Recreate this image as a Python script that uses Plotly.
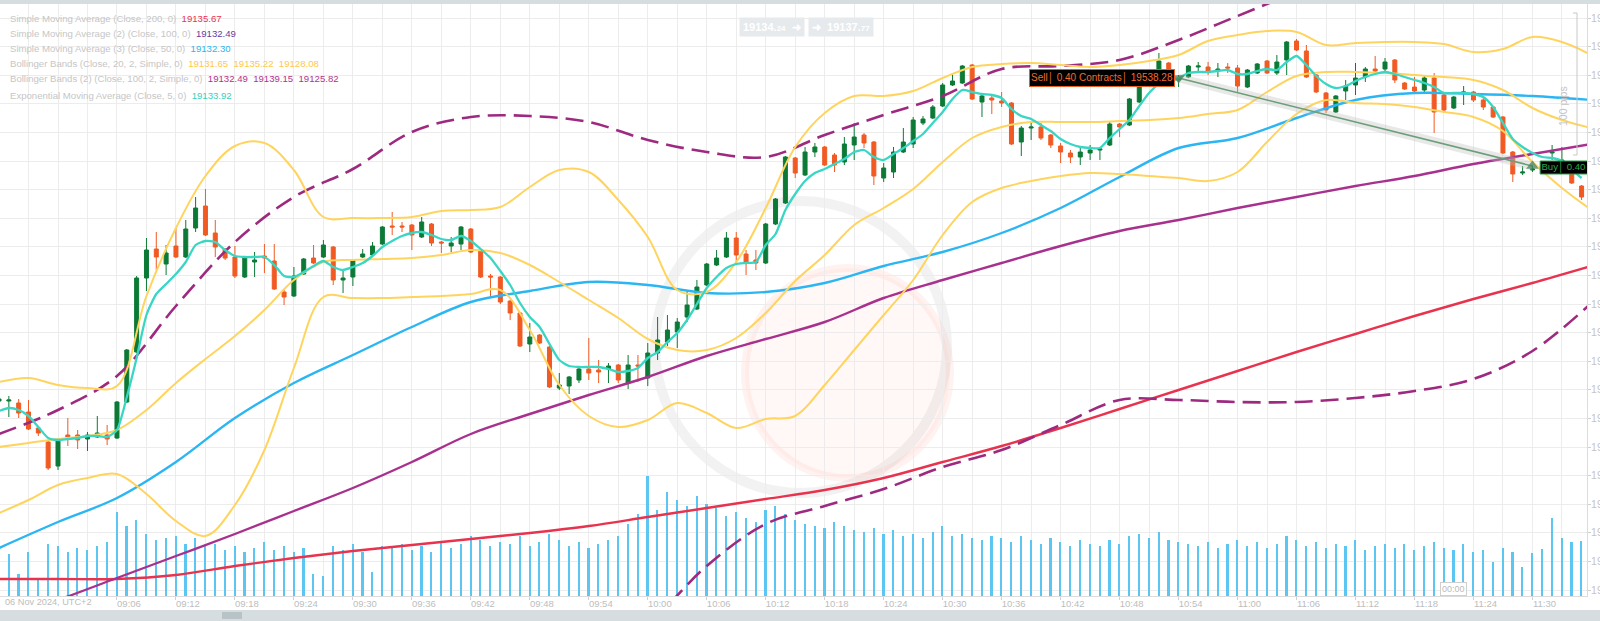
import plotly.graph_objects as go
import pandas as pd

# ---------------- data ----------------
minutes = pd.date_range("2024-11-06 08:54", "2024-11-06 11:35", freq="1min")
t3 = pd.date_range("2024-11-06 08:54", "2024-11-06 11:36", freq="3min")
t6 = pd.date_range("2024-11-06 08:54", "2024-11-06 11:36", freq="6min")
t6_low = pd.date_range("2024-11-06 09:54", "2024-11-06 11:36", freq="6min")

opens = [19119.9, 19119.9, 19119.7, 19118.8, 19117.2, 19115.8, 19113.4, 19116.5, 19116.5, 19116.1,
         19116.3, 19116.5, 19116.2, 19119.8, 19124.8, 19132.2, 19135.1, 19133.6, 19135.4, 19134.3,
         19137.2, 19139.4, 19136.7, 19135.1, 19134.3, 19132.3, 19133.8, 19134.4, 19133.9, 19130.8,
         19130.4, 19132.6, 19134.2, 19134.3, 19135.3, 19132.0, 19132.3, 19134.3, 19134.5, 19135.6,
         19137.4, 19137.4, 19137.5, 19136.3, 19137.6, 19135.8, 19135.4, 19135.6, 19137.1, 19135.0,
         19132.4, 19132.3, 19129.9, 19128.7, 19125.6, 19126.5, 19125.3, 19121.2, 19121.4, 19122.0,
         19123.1, 19123.0, 19123.1, 19123.5, 19121.7, 19123.5, 19122.2, 19124.7, 19125.8, 19126.8,
         19128.3, 19129.1, 19131.5, 19133.5, 19134.3, 19136.2, 19134.6, 19134.0, 19133.7, 19137.6,
         19139.7, 19144.2, 19142.5, 19144.8, 19145.3, 19144.5, 19143.8, 19145.5, 19146.5, 19145.8,
         19142.2, 19142.8, 19144.8, 19145.6, 19147.7, 19148.2, 19149.4, 19151.5, 19151.7, 19153.5,
         19149.8, 19150.2, 19149.9, 19149.7, 19145.8, 19147.2, 19147.3, 19146.5, 19145.4, 19144.7,
         19144.3, 19144.7, 19145.0, 19145.5, 19147.6, 19147.5, 19149.8, 19151.7, 19152.9, 19153.7,
         19152.0, 19152.3, 19153.3, 19153.3, 19152.9, 19153.3, 19153.2, 19151.3, 19152.7, 19153.9,
         19152.7, 19154.0, 19155.9, 19154.9, 19152.5, 19150.7, 19148.8, 19150.9, 19151.5, 19152.3,
         19153.1, 19153.1, 19154.0, 19151.7, 19151.3, 19151.0, 19152.2, 19150.5, 19149.2, 19150.7,
         19150.8, 19150.0, 19149.3, 19148.3, 19144.8, 19142.7, 19143.0, 19143.3, 19144.7, 19143.2,
         19142.7, 19141.4]
highs = [19120.3, 19120.4, 19120.1, 19120.0, 19117.3, 19116.0, 19116.2, 19118.2, 19117.0, 19116.8,
         19118.4, 19117.5, 19119.9, 19125.1, 19132.4, 19136.2, 19136.8, 19135.5, 19137.2, 19138.0,
         19140.3, 19141.1, 19138.0, 19135.2, 19135.4, 19134.4, 19134.8, 19135.6, 19135.6, 19131.0,
         19133.3, 19134.2, 19135.5, 19136.0, 19135.4, 19133.0, 19134.1, 19135.1, 19135.8, 19137.4,
         19138.8, 19137.8, 19137.6, 19138.3, 19137.7, 19135.9, 19136.3, 19137.4, 19137.2, 19135.1,
         19132.6, 19132.4, 19130.0, 19128.8, 19127.7, 19126.6, 19125.4, 19122.7, 19122.4, 19123.2,
         19126.2, 19124.0, 19123.7, 19123.6, 19124.5, 19124.5, 19125.7, 19128.3, 19128.5, 19128.2,
         19131.0, 19132.0, 19133.7, 19135.0, 19136.8, 19136.8, 19135.0, 19135.0, 19137.7, 19140.2,
         19144.4, 19144.3, 19145.3, 19145.7, 19145.4, 19144.7, 19146.3, 19147.7, 19146.7, 19145.9,
         19143.7, 19145.3, 19147.2, 19148.3, 19148.4, 19149.5, 19151.7, 19152.6, 19153.5, 19153.6,
         19150.5, 19150.5, 19150.8, 19149.8, 19147.4, 19147.8, 19147.7, 19146.6, 19145.7, 19145.0,
         19145.2, 19145.5, 19145.3, 19147.8, 19147.7, 19150.2, 19152.3, 19153.0, 19154.7, 19153.8,
         19152.5, 19153.5, 19153.8, 19153.8, 19153.7, 19153.7, 19153.5, 19153.1, 19153.7, 19154.0,
         19154.5, 19155.9, 19156.1, 19155.5, 19152.6, 19150.8, 19150.5, 19152.0, 19153.7, 19153.3,
         19154.4, 19154.2, 19154.1, 19151.8, 19152.3, 19152.5, 19152.7, 19150.8, 19150.4, 19151.4,
         19150.9, 19150.2, 19149.4, 19148.4, 19144.9, 19143.4, 19143.5, 19143.7, 19145.5, 19145.3,
         19142.8, 19141.5]
lows = [19119.7, 19118.3, 19118.2, 19117.0, 19116.4, 19113.0, 19113.0, 19115.4, 19115.1, 19114.9,
        19116.2, 19115.5, 19116.1, 19119.7, 19124.7, 19130.9, 19133.0, 19132.5, 19134.2, 19134.2,
        19136.8, 19136.4, 19134.3, 19134.0, 19132.2, 19132.2, 19132.3, 19132.7, 19131.0, 19129.5,
        19130.3, 19132.5, 19133.6, 19134.2, 19131.5, 19130.7, 19131.4, 19134.2, 19134.4, 19135.5,
        19136.5, 19136.8, 19135.0, 19136.2, 19135.4, 19134.7, 19134.8, 19135.0, 19134.7, 19132.2,
        19130.3, 19129.6, 19128.0, 19125.3, 19124.8, 19125.6, 19121.2, 19121.0, 19120.6, 19121.7,
        19122.0, 19121.7, 19121.7, 19121.7, 19121.1, 19121.8, 19121.4, 19124.0, 19125.4, 19125.2,
        19127.8, 19129.0, 19131.4, 19133.4, 19134.2, 19133.7, 19132.5, 19133.0, 19133.6, 19137.5,
        19139.6, 19142.2, 19142.4, 19144.3, 19143.4, 19142.8, 19143.5, 19144.0, 19145.2, 19141.5,
        19141.8, 19142.2, 19144.7, 19145.2, 19147.5, 19148.1, 19149.3, 19151.4, 19151.6, 19150.0,
        19148.3, 19148.6, 19149.3, 19145.5, 19144.4, 19146.0, 19146.0, 19145.2, 19143.7, 19143.7,
        19143.5, 19144.0, 19144.0, 19145.4, 19146.3, 19147.4, 19149.7, 19151.6, 19152.8, 19151.5,
        19151.3, 19152.2, 19152.9, 19152.5, 19152.3, 19152.7, 19150.8, 19151.2, 19152.6, 19152.6,
        19152.5, 19152.5, 19154.9, 19152.2, 19150.7, 19148.7, 19148.7, 19150.0, 19150.5, 19151.8,
        19152.8, 19152.8, 19151.7, 19151.0, 19150.7, 19150.7, 19146.7, 19148.7, 19149.1, 19149.5,
        19149.8, 19149.0, 19148.2, 19144.6, 19141.8, 19142.5, 19142.8, 19142.8, 19144.0, 19143.0,
        19141.6, 19140.0]
closes = [19120.1, 19120.0, 19118.7, 19117.1, 19116.7, 19113.2, 19116.0, 19116.3, 19116.0, 19116.5,
          19116.7, 19116.1, 19119.8, 19125.0, 19132.2, 19135.0, 19134.3, 19134.7, 19134.3, 19137.1,
          19139.2, 19136.5, 19135.3, 19134.2, 19132.4, 19134.3, 19134.0, 19134.2, 19131.1, 19130.3,
          19132.4, 19134.1, 19133.7, 19135.5, 19132.0, 19132.2, 19134.0, 19134.6, 19135.4, 19137.3,
          19137.3, 19137.3, 19136.5, 19137.8, 19135.7, 19135.7, 19135.7, 19137.3, 19134.8, 19132.3,
          19132.3, 19129.8, 19128.7, 19125.4, 19126.3, 19125.7, 19121.3, 19121.5, 19122.3, 19123.1,
          19122.7, 19122.8, 19123.4, 19122.0, 19123.5, 19123.4, 19124.7, 19126.0, 19127.0, 19127.8,
          19129.5, 19131.3, 19133.6, 19134.2, 19136.2, 19134.5, 19133.8, 19133.7, 19137.6, 19140.1,
          19144.3, 19142.7, 19144.8, 19145.3, 19143.5, 19143.5, 19145.6, 19146.3, 19145.7, 19142.4,
          19143.2, 19144.8, 19145.8, 19148.0, 19148.1, 19149.3, 19151.5, 19151.9, 19153.4, 19150.1,
          19150.4, 19150.0, 19149.7, 19145.6, 19147.2, 19147.3, 19146.2, 19145.5, 19144.8, 19144.3,
          19144.8, 19145.0, 19145.1, 19147.6, 19147.3, 19150.1, 19151.7, 19152.9, 19153.9, 19151.7,
          19152.1, 19153.4, 19153.4, 19152.8, 19153.1, 19153.2, 19151.4, 19153.0, 19153.6, 19152.7,
          19153.8, 19155.8, 19155.0, 19152.3, 19150.8, 19149.0, 19150.4, 19151.4, 19152.2, 19153.1,
          19152.9, 19153.8, 19152.0, 19151.1, 19150.9, 19152.2, 19148.8, 19149.0, 19150.3, 19150.8,
          19150.0, 19149.3, 19148.3, 19144.7, 19142.6, 19142.8, 19143.1, 19143.0, 19144.8, 19144.0,
          19141.7, 19140.3]
volumes = [44, 42, 22, 44, 18, 52, 50, 44, 48, 46, 50, 54,
           84, 70, 76, 62, 56, 58, 60, 52, 58, 50,
           52, 46, 50, 44, 48, 54, 46, 50, 44, 48,
           22, 20, 50, 46, 52, 44, 24, 50, 48, 52,
           46, 50, 44, 54, 48, 52, 60, 56, 50, 54,
           52, 60, 50, 54, 62, 56, 50, 54, 48, 52,
           56, 60, 72, 82, 120, 86, 104, 96, 90, 100,
           92, 88, 80, 84, 78, 74, 86, 90, 82, 76,
           72, 70, 68, 74, 70, 66, 64, 68, 62, 66,
           60, 62, 58, 64, 70, 60, 62, 58, 56, 60,
           58, 54, 60, 56, 52, 58, 54, 50, 56, 52,
           50, 56, 52, 60, 62, 58, 64, 56, 54, 52,
           50, 54, 48, 52, 56, 50, 54, 48, 52, 60,
           56, 50, 54, 48, 52, 50, 56, 46, 50, 52,
           48, 52, 46, 50, 54, 48, 46, 52, 44, 46,
           34, 48, 44, 29, 43, 47, 78, 58, 54, 55]

ema5 = [19118.9, 19119.2, 19119.0, 19118.4, 19117.3, 19116.2,
        19116.0, 19116.1, 19116.2, 19116.4, 19116.4, 19116.3, 19117.0, 19120.3, 19124.2, 19128.5,
        19130.6, 19131.6, 19132.6, 19133.8, 19135.5, 19135.9, 19135.8, 19135.0, 19134.4, 19134.3,
        19134.3, 19134.3, 19133.5, 19132.4, 19132.3, 19132.8, 19133.4, 19133.9, 19133.3, 19133.0,
        19133.3, 19133.7, 19134.4, 19135.3, 19135.9, 19136.4, 19136.7, 19136.8, 19136.5, 19136.1,
        19136.0, 19136.4, 19135.9, 19135.1, 19134.2, 19132.9, 19131.5, 19129.7, 19128.3, 19127.3,
        19125.6, 19124.0, 19123.4, 19123.3, 19123.3, 19123.3, 19123.1, 19122.8, 19122.9, 19123.2,
        19124.2, 19124.8, 19125.8, 19126.7, 19128.0, 19129.6, 19131.2, 19132.3, 19133.2, 19133.6,
        19133.7, 19133.8, 19135.5, 19136.6, 19139.0, 19140.6, 19141.9, 19142.7, 19143.1, 19143.6,
        19144.1, 19144.8, 19145.0, 19144.3, 19144.0, 19144.6, 19145.2, 19145.9, 19146.6, 19147.7,
        19148.8, 19150.1, 19151.0, 19150.8, 19150.6, 19150.5, 19150.2, 19149.1, 19148.4, 19148.1,
        19147.5, 19146.9, 19146.1, 19145.6, 19145.3, 19145.2, 19145.2, 19146.2, 19147.1, 19148.0,
        19149.4, 19150.7, 19151.6, 19151.7, 19152.2, 19152.7, 19152.8, 19152.8, 19152.9, 19153.0,
        19152.6, 19152.6, 19152.9, 19153.1, 19153.0, 19153.8, 19154.4, 19153.5, 19152.4, 19151.6,
        19151.2, 19151.4, 19151.9, 19152.3, 19152.6, 19152.8, 19152.6, 19152.3, 19152.0, 19151.7,
        19151.3, 19150.7, 19150.7, 19150.7, 19150.6, 19150.3, 19149.3, 19147.7, 19146.1, 19145.3,
        19144.7, 19144.3, 19144.2, 19143.9, 19143.0, 19142.2]

bb20_upper = [19121.8, 19122.2, 19121.5, 19121.2, 19121.4, 19130.4, 19137.2, 19142.4, 19145.4, 19145.7,
              19143.0, 19138.3, 19138.2, 19138.2, 19138.3, 19138.9, 19139.0, 19139.3, 19141.3, 19143.0,
              19142.8, 19140.0, 19136.3, 19131.0, 19130.8, 19133.8, 19139.2, 19145.3, 19148.7, 19150.4,
              19150.4, 19150.9, 19152.2, 19153.3, 19153.6, 19153.7, 19153.5, 19153.3, 19153.5, 19153.9,
              19154.5, 19155.9, 19156.5, 19156.9, 19156.8, 19155.5, 19155.7, 19155.8, 19155.8, 19155.6,
              19154.8, 19155.1, 19156.3, 19155.8, 19154.5]
bb20_middle = [19115.3, 19115.7, 19116.1, 19116.4, 19117.0, 19119.0, 19121.7, 19124.1, 19126.4, 19129.0,
               19132.0, 19133.8, 19134.0, 19134.1, 19134.2, 19134.5, 19135.0, 19134.7, 19133.5, 19131.8,
               19130.0, 19128.2, 19126.1, 19125.0, 19125.0, 19126.2, 19128.7, 19131.9, 19134.5, 19137.5,
               19139.2, 19141.1, 19143.8, 19146.2, 19147.3, 19147.8, 19147.8, 19147.8, 19147.9, 19148.0,
               19148.2, 19148.6, 19149.0, 19150.8, 19152.4, 19152.8, 19152.8, 19152.7, 19152.5, 19152.3,
               19152.0, 19151.0, 19149.2, 19148.0, 19147.2]
bb20_lower = [19108.7, 19110.0, 19111.5, 19112.2, 19112.6, 19110.6, 19107.9, 19106.4, 19109.5, 19115.0,
              19123.2, 19130.3, 19130.2, 19130.2, 19130.3, 19130.4, 19130.6, 19131.0, 19127.0, 19121.5,
              19118.4, 19117.3, 19118.0, 19119.7, 19118.7, 19117.2, 19118.1, 19118.4, 19121.5, 19125.0,
              19128.5, 19132.0, 19136.5, 19139.8, 19141.2, 19141.9, 19142.4, 19142.7, 19142.6, 19142.4,
              19142.2, 19141.9, 19142.8, 19145.8, 19148.6, 19150.0, 19149.7, 19149.6, 19149.3, 19148.8,
              19148.3, 19146.9, 19143.8, 19141.2, 19139.0]

sma50 = [19105.2, 19107.8, 19110.2, 19113.8, 19118.2, 19121.7, 19124.5, 19127.3, 19129.8, 19130.9,
         19131.8, 19131.5, 19130.7, 19130.8, 19131.7, 19133.4, 19134.8, 19136.7, 19139.2, 19142.3,
         19145.2, 19146.2, 19148.2, 19150.0, 19150.7, 19150.6, 19150.4, 19150.0]
sma100 = [19098.0, 19100.0, 19102.2, 19104.4, 19106.6, 19108.9, 19111.2, 19113.8, 19116.6, 19118.6,
          19120.5, 19122.3, 19124.4, 19126.1, 19127.8, 19130.2, 19132.0, 19133.7, 19135.4, 19136.9,
          19138.0, 19139.2, 19140.3, 19141.4, 19142.4, 19143.6, 19144.6, 19145.6]
sma200 = [19102.1, 19102.1, 19102.1, 19102.5, 19103.4, 19104.2, 19104.9, 19105.5, 19106.1, 19106.7,
          19107.4, 19108.3, 19109.2, 19110.1, 19111.0, 19112.2, 19113.8, 19115.4, 19117.2, 19119.1,
          19121.0, 19122.9, 19124.8, 19126.6, 19128.4, 19130.1, 19131.7, 19133.4]
bb100_upper = [19116.6, 19119.0, 19122.4, 19129.4, 19135.8, 19140.3, 19143.1, 19146.8, 19148.3, 19148.4,
               19147.8, 19146.0, 19144.8, 19144.3, 19146.5, 19148.5, 19150.4, 19153.1, 19153.4, 19154.0,
               19156.0, 19158.4, 19160.8, 19163.2, 19165.6, 19168.0, 19170.4, 19172.8]
bb100_lower = [19093.2, 19097.5, 19103.4, 19107.6, 19109.4, 19111.1, 19113.3, 19115.0, 19117.5, 19120.0,
               19120.0, 19119.8, 19119.8, 19120.2, 19120.9, 19122.1, 19124.9, 19129.7]

x_ticks = pd.date_range("2024-11-06 09:06", "2024-11-06 11:30", freq="6min")
x_ticktext = [t.strftime("%H:%M") for t in x_ticks]

trade_times = ["2024-11-06 10:54", "2024-11-06 11:30"]
trade_prices = [19152.2, 19143.4]

legend_labels = ["Simple Moving Average (Close, 200, 0)",
                 "Simple Moving Average (2) (Close, 100, 0)",
                 "Simple Moving Average (3) (Close, 50, 0)",
                 "Bollinger Bands (Close, 20, 2, Simple, 0)",
                 "Bollinger Bands (2) (Close, 100, 2, Simple, 0)",
                 "Exponential Moving Average (Close, 5, 0)"]
legend_values = ["19135.67", "19132.49", "19132.30",
                 "19131.65&nbsp;&nbsp;19135.22&nbsp;&nbsp;19128.08",
                 "19132.49&nbsp;&nbsp;19139.15&nbsp;&nbsp;19125.82", "19133.92"]
legend_colors = ["#e8334f", "#6a3a9c", "#2eb4ef", "#ffc84a", "#b0328c", "#36d0c0"]

# ---------------- styling ----------------
GREEN = "#0c7a36"
RED = "#f15a22"
GRID = "#ececec"
FONT = "Liberation Sans, Arial, sans-serif"
PW, PH, TOP = 1587.0, 592.0, 4.0


def px(xp):
    return xp / PW


def py(yp):
    return (PH + TOP - yp) / PH


fig = go.Figure()

# volume (base axis, drawn underneath everything)
fig.add_trace(go.Bar(x=minutes, y=volumes, yaxis="y", marker=dict(color="#5cc6f2", line=dict(width=0)),
                     width=10000, hoverinfo="skip", showlegend=False))

# candles
fig.add_trace(go.Candlestick(
    x=minutes, open=opens, high=highs, low=lows, close=closes, yaxis="y2",
    increasing=dict(line=dict(color=GREEN, width=1), fillcolor=GREEN),
    decreasing=dict(line=dict(color=RED, width=1), fillcolor=RED),
    whiskerwidth=0, showlegend=False, hoverinfo="skip"))


def line(x, y, color, width=2.2, dash="solid", smooth=1.0):
    fig.add_trace(go.Scatter(x=x, y=y, mode="lines", yaxis="y2", hoverinfo="skip", showlegend=False,
                             line=dict(color=color, width=width, dash=dash, shape="spline", smoothing=smooth)))


line(t6, sma200, "#e8334f", 2.4)
line(t6, sma100, "#a8308e", 2.4)
line(t6, bb100_upper, "#9e2a80", 2.6, dash="18px,8px")
line(t6_low, bb100_lower, "#9e2a80", 2.6, dash="18px,8px")
line(t6, sma50, "#2bb6f3", 2.4)
line(t3, bb20_upper, "#ffd45e", 2.0)
line(t3, bb20_middle, "#ffd45e", 2.0)
line(t3, bb20_lower, "#ffd45e", 2.0)
line(minutes, ema5, "#3ad6c4", 2.3, smooth=0.6)

# trade connection
fig.add_trace(go.Scatter(x=trade_times, y=trade_prices, mode="lines", yaxis="y2", hoverinfo="skip",
                         showlegend=False, line=dict(color="rgba(190,190,190,0.35)", width=9)))
fig.add_trace(go.Scatter(x=trade_times, y=trade_prices, mode="lines", yaxis="y2", hoverinfo="skip",
                         showlegend=False, line=dict(color="#6a9e76", width=1.5)))
fig.add_trace(go.Scatter(x=trade_times, y=trade_prices, mode="markers", yaxis="y2", hoverinfo="skip",
                         showlegend=False,
                         marker=dict(symbol=["triangle-down", "triangle-up"], size=11,
                                     color="rgba(70,130,90,0.75)", line=dict(width=0))))

# Buy label (box + text, both clipped at the plot edge)
bx0, bx1 = "2024-11-06 11:30:47", "2024-11-06 11:37:00"
by0, by1 = 19142.6, 19143.9
fig.add_trace(go.Scatter(x=[bx0, bx1, bx1, bx0, bx0], y=[by0, by0, by1, by1, by0], mode="lines",
                         fill="toself", fillcolor="black", line=dict(color="#2b9a4a", width=1),
                         yaxis="y2", hoverinfo="skip", showlegend=False))
fig.add_trace(go.Scatter(x=["2024-11-06 11:30:55"], y=[19143.25], mode="text", yaxis="y2",
                         text=["Buy\u2502 0.40 Contracts\u2502 19143.28"], textposition="middle right",
                         textfont=dict(family=FONT, size=9.6, color="#2fa54c"),
                         cliponaxis=True, hoverinfo="skip", showlegend=False))

# ---------------- annotations ----------------
ann = []
leg_y = [19, 34, 49, 64, 79, 95]
for label, val, col, yy in zip(legend_labels, legend_values, legend_colors, leg_y):
    ann.append(dict(xref="paper", yref="paper", x=px(8), y=py(yy), xanchor="left", yanchor="middle",
                    showarrow=False, align="left",
                    text=f"<span style='color:#c6c6c6'>{label}</span>&nbsp; <span style='color:{col}'>{val}</span>",
                    font=dict(family=FONT, size=9.6)))

# Sell label
ann.append(dict(xref="x", yref="y2", x="2024-11-06 10:46:10", y=19152.25, showarrow=False,
                text="Sell\u2502 0.40 Contracts\u2502 19538.28", bgcolor="black",
                bordercolor="#f05a24", borderwidth=1, borderpad=1,
                font=dict(family=FONT, size=10, color="#f36b2d")))

# header price boxes
ann.append(dict(xref="paper", yref="paper", x=px(772), y=py(17), showarrow=False,
                text="<b>19134.<span style='font-size:8px'>24</span>&nbsp;&nbsp;\u279c</b>",
                bgcolor="#e6eaed", borderpad=3, font=dict(family=FONT, size=11, color="white")))
ann.append(dict(xref="paper", yref="paper", x=px(841), y=py(17), showarrow=False,
                text="<b>\u279c&nbsp;&nbsp;19137.<span style='font-size:8px'>77</span></b>",
                bgcolor="#e6eaed", borderpad=3, font=dict(family=FONT, size=11, color="white")))

# 100 pips
ann.append(dict(xref="paper", yref="paper", x=px(1571), y=py(84), showarrow=False, textangle=-90,
                text="100 pips", font=dict(family=FONT, size=10.5, color="#c4c4c4")))

# date label & timer
ann.append(dict(xref="paper", yref="paper", x=px(3), y=py(602), xanchor="left", yanchor="middle",
                showarrow=False, text="06 Nov 2024, UTC+2", font=dict(family=FONT, size=9.2, color="#bdbdbd")))
ann.append(dict(xref="paper", yref="paper", x=px(1467), y=py(596), showarrow=False,
                text="00:00", bgcolor="white", bordercolor="#cfcfcf", borderwidth=1, borderpad=1,
                font=dict(family=FONT, size=9, color="#bbbbbb")))

# ---------------- shapes ----------------
shapes = [
    dict(type="rect", xref="paper", yref="paper", x0=-0.01, x1=1.02, y0=1.0, y1=1.02,
         fillcolor="#d6dde0", line=dict(width=0), layer="above"),
    dict(type="rect", xref="paper", yref="paper", x0=-0.01, x1=1.02, y0=py(621), y1=py(610),
         fillcolor="#d6dde0", line=dict(width=0), layer="above"),
    dict(type="rect", xref="paper", yref="paper", x0=px(222), x1=px(242), y0=py(619), y1=py(612),
         fillcolor="#b8c3c8", line=dict(width=0), layer="above"),
    dict(type="line", xref="paper", yref="paper", x0=px(1577), x1=px(1577), y0=py(13), y1=py(155),
         line=dict(color="#c8c8c8", width=1), layer="above"),
    dict(type="line", xref="paper", yref="paper", x0=px(1573), x1=px(1577), y0=py(13), y1=py(13),
         line=dict(color="#c8c8c8", width=1), layer="above"),
    dict(type="line", xref="paper", yref="paper", x0=px(1573), x1=px(1577), y0=py(155), y1=py(155),
         line=dict(color="#c8c8c8", width=1), layer="above"),
    dict(type="circle", xref="paper", yref="paper", x0=px(655), x1=px(947), y0=py(493), y1=py(201),
         fillcolor="rgba(0,0,0,0)", line=dict(color="rgba(205,205,205,0.25)", width=10), layer="below"),
    dict(type="circle", xref="paper", yref="paper", x0=px(745), x1=px(950), y0=py(478), y1=py(268),
         fillcolor="rgba(255,110,90,0.05)", line=dict(color="rgba(255,140,120,0.10)", width=8), layer="below"),
]

fig.update_layout(
    width=1600, height=621,
    margin=dict(l=0, r=13, t=4, b=25),
    paper_bgcolor="white", plot_bgcolor="white",
    showlegend=False, boxgap=0.42, bargap=0,
    font=dict(family=FONT),
    xaxis=dict(
        type="date", range=["2024-11-06 08:54:06", "2024-11-06 11:35:33"],
        rangeslider=dict(visible=False),
        tickmode="array", tickvals=x_ticks, ticktext=x_ticktext, ticklabelshift=12,
        ticklabelstandoff=-4,
        showgrid=True, gridcolor=GRID, gridwidth=1,
        minor=dict(tickmode="linear", tick0="2024-11-06 09:00", dtick=180000,
                   showgrid=True, gridcolor=GRID, gridwidth=1, ticks=""),
        ticks="outside", ticklen=3, tickcolor="#d0d0d0",
        showline=True, linecolor="#dcdcdc", linewidth=1,
        tickfont=dict(family=FONT, size=9.5, color="#bdbdbd"),
        zeroline=False, fixedrange=True,
    ),
    yaxis=dict(range=[0, 592], visible=False, showgrid=False, fixedrange=True),
    yaxis2=dict(
        overlaying="y", side="right", anchor="x",
        range=[19100.4, 19159.6], tickmode="linear", tick0=19158.2, dtick=2.86, tickformat=".2f",
        showgrid=True, gridcolor=GRID, gridwidth=1, zeroline=False,
        ticks="outside", ticklen=3, tickcolor="#d0d0d0", ticklabelstandoff=-2,
        showline=True, linecolor="#dcdcdc", linewidth=1,
        tickfont=dict(family=FONT, size=10.5, color="#c4c4c4"),
        automargin=False, fixedrange=True,
    ),
    annotations=ann,
    shapes=shapes,
)

fig.write_html("out.html")
